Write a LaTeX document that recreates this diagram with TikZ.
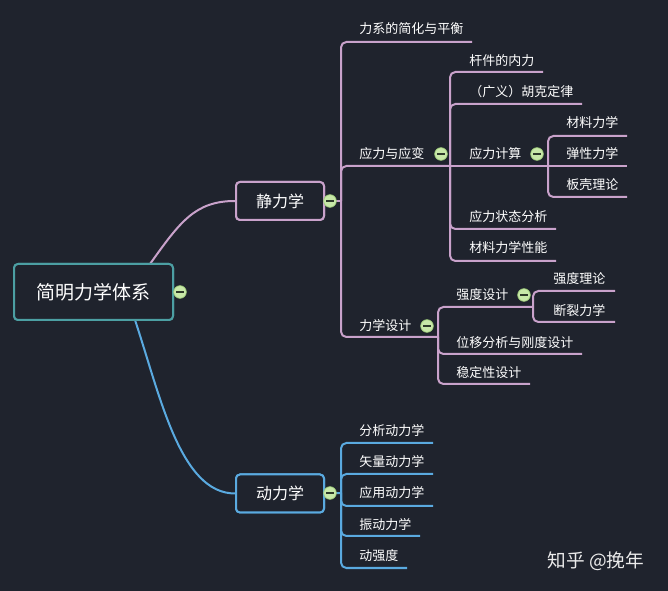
\documentclass[tikz,border=0pt]{standalone}
\usepackage{fontspec}
\newfontfamily\cjk{Noto Sans CJK SC}
\definecolor{bg}{HTML}{1F232D}
\definecolor{pinkl}{HTML}{C9A2CB}
\definecolor{bluel}{HTML}{5AAAE0}
\definecolor{tealb}{HTML}{4C9FA3}
\definecolor{dotfill}{HTML}{C8E8A8}
\definecolor{dotdraw}{HTML}{9CCB78}
\definecolor{dotminus}{HTML}{2E3A2A}
\begin{document}
\begin{tikzpicture}[x=0.75pt,y=-0.75pt,
  leaf/.style={font=\cjk\fontsize{9.75pt}{11pt}\selectfont, text=white, anchor=west, inner sep=0pt},
  topic/.style={font=\cjk\fontsize{12pt}{14pt}\selectfont, text=white, draw, line width=1.5pt,
    rounded corners=3pt, fill=bg, minimum width=66pt, minimum height=28.5pt, inner sep=0pt},
  rootbox/.style={font=\cjk\fontsize{14.25pt}{16pt}\selectfont, text=white, draw=tealb, line width=1.5pt,
    rounded corners=3pt, fill=bg, minimum width=119.25pt, minimum height=42pt, inner sep=0pt},
  pinkb/.style={draw=pinkl, line width=1.5pt, rounded corners=4pt},
  blueb/.style={draw=bluel, line width=1.5pt, rounded corners=4pt},
  dot/.style={circle, minimum size=9.5pt, inner sep=0pt, fill=dotfill, draw=dotdraw, line width=0.5pt,
    path picture={\draw[dotminus, line width=1.1pt]
      ([xshift=-2.7pt]path picture bounding box.center) -- ([xshift=2.7pt]path picture bounding box.center);}}
]
\useasboundingbox[fill=bg] (0,0) rectangle (668,591);

% junction and end coordinates
\coordinate (rS) at (150,264);
\coordinate (rK) at (135,320);
\coordinate (jS) at (341,201);
\coordinate (jY) at (450,166);
\coordinate (jD) at (438,337);
\coordinate (jC) at (548,166);
\coordinate (jQ) at (533,307);
\coordinate (jK) at (341,493);
\coordinate (e1) at (472,42);
\coordinate (e2) at (543,72);
\coordinate (e3) at (582,104);
\coordinate (e4) at (556,229);
\coordinate (e5) at (556,261);
\coordinate (e6) at (627,136);
\coordinate (e7) at (627,166);
\coordinate (e8) at (627,197);
\coordinate (e9) at (582,354);
\coordinate (e10) at (530,384);
\coordinate (e11) at (615,291);
\coordinate (e12) at (615,322);
\coordinate (k1) at (433,443);
\coordinate (k2) at (433,474);
\coordinate (k3) at (433,506);
\coordinate (k4) at (420,536);
\coordinate (k5) at (407,568);

% topic boxes
\node[rootbox] (root) at (93.5,292) {简明力学体系};
\node[topic, draw=pinkl] (jing) at (280,201) {静力学};
\node[topic, draw=bluel] (dong) at (280,493.5) {动力学};

% curves from root
\draw[pinkb] (rS) .. controls (180,222) and (195,201) .. (jing.west);
\draw[blueb] (rK) .. controls (160,395) and (180,493.5) .. (dong.west);
\node[rootbox] at (root) {简明力学体系};
\node[topic, draw=pinkl] at (jing) {静力学};
\node[topic, draw=bluel] at (dong) {动力学};

% static branches
\draw[pinkb] (jing.east) -- (jS);
\draw[pinkb] (jS) |- (e1);
\draw[pinkb] (jS) |- (jY);
\draw[pinkb] (jS) |- (jD);
\draw[pinkb] (jY) |- (e2);
\draw[pinkb] (jY) |- (e3);
\draw[pinkb] (jY) -- (jC);
\draw[pinkb] (jY) |- (e4);
\draw[pinkb] (jY) |- (e5);
\draw[pinkb] (jC) |- (e6);
\draw[pinkb] (jC) -- (e7);
\draw[pinkb] (jC) |- (e8);
\draw[pinkb] (jD) |- (jQ);
\draw[pinkb] (jD) |- (e9);
\draw[pinkb] (jD) |- (e10);
\draw[pinkb] (jQ) |- (e11);
\draw[pinkb] (jQ) |- (e12);

% dynamic branches
\draw[blueb] (dong.east) -- (jK);
\draw[blueb] (jK) |- (k1);
\draw[blueb] (jK) |- (k2);
\draw[blueb] (jK) |- (k3);
\draw[blueb] (jK) |- (k4);
\draw[blueb] (jK) |- (k5);

% texts
\node[leaf] (t1) at (359,29) {力系的简化与平衡};
\node[leaf] (t2) at (359,154) {应力与应变};
\node[leaf] (t3) at (359,326) {力学设计};
\node[leaf] (t4) at (469,61) {杆件的内力};
\node[leaf] (t5) at (469,92) {（广义）胡克定律};
\node[leaf] (t6) at (469,154) {应力计算};
\node[leaf] (t7) at (469,217) {应力状态分析};
\node[leaf] (t8) at (469,248) {材料力学性能};
\node[leaf] (t9) at (566,123) {材料力学};
\node[leaf] (t10) at (566,154) {弹性力学};
\node[leaf] (t11) at (566,185) {板壳理论};
\node[leaf] (t12) at (456,295) {强度设计};
\node[leaf] (t13) at (456,343) {位移分析与刚度设计};
\node[leaf] (t14) at (456,373) {稳定性设计};
\node[leaf] (t15) at (553,279) {强度理论};
\node[leaf] (t16) at (553,311) {断裂力学};
\node[leaf] (u1) at (359,431) {分析动力学};
\node[leaf] (u2) at (359,462) {矢量动力学};
\node[leaf] (u3) at (359,493) {应用动力学};
\node[leaf] (u4) at (359,525) {振动力学};
\node[leaf] (u5) at (359,556) {动强度};

% collapse dots
\node[dot] (d0) at (180,292) {};
\node[dot] (d1) at (330,201) {};
\node[dot] (d2) at (330,493) {};
\node[dot] (d3) at (441,154) {};
\node[dot] (d4) at (537,154) {};
\node[dot] (d5) at (427,326) {};
\node[dot] (d6) at (524,295) {};

% watermark
\node[font=\cjk\fontsize{14pt}{16pt}\selectfont, text=white!92!black] (wm) at (596,561) {知乎 @挽年};
\end{tikzpicture}
\end{document}
